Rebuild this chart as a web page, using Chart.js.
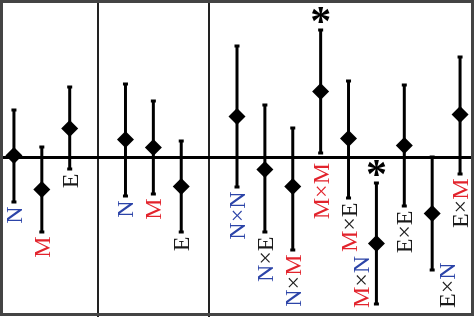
<!DOCTYPE html>
<html>
<head>
<meta charset="utf-8">
<script src="https://cdn.jsdelivr.net/npm/chart.js@4/dist/chart.umd.min.js"></script>
<style>
  html, body { margin: 0; padding: 0; background: #fff; }
  #wrap { width: 474px; height: 317px; }
</style>
</head>
<body>
<div id="wrap"><canvas id="c" width="474" height="317"></canvas></div>
<script>
// Terms: main effects (two panels) and pairwise interactions
const terms = ['N', 'M', 'E', 'N', 'M', 'E',
               'N×N', 'N×E', 'N×M', 'M×M', 'M×E', 'M×N', 'E×E', 'E×N', 'E×M'];
// Slot index of each term along the x axis (gaps hold the panel dividers)
const slot = [0, 1, 2, 4, 5, 6, 8, 9, 10, 11, 12, 13, 14, 15, 16];
const dividers = [3, 7];
// Point estimates and interval bounds
const estimate = [0.02, -0.32, 0.29, 0.18, 0.10, -0.29,
                  0.41, -0.12, -0.29, 0.66, 0.19, -0.86, 0.12, -0.56, 0.43];
const upper    = [0.48, 0.11, 0.71, 0.74, 0.57, 0.17,
                  1.12, 0.53, 0.30, 1.28, 0.77, -0.25, 0.73, 0.01, 1.01];
const lower    = [-0.45, -0.75, -0.12, -0.39, -0.37, -0.75,
                  -0.30, -0.75, -0.93, 0.04, -0.41, -1.47, -0.49, -1.13, -0.17];
const significant = [0, 0, 0, 0, 0, 0, 0, 0, 0, 1, 0, 1, 0, 0, 0];

const LETTER_COLOR = { N: '#2c44a8', M: '#e2232c', E: '#1a1a1a' };
const LABEL_FONT = '24px "Liberation Serif", "Times New Roman", serif';
const STAR_FONT = 'bold 42px "Liberation Serif", "Times New Roman", serif';
// Labels that do not fit below their whisker sit beside it, flush with the bottom
const SIDE_LABEL = { 'M×N': -15, 'E×N': 15 };
const LABEL_FLOOR = 308;

function labelParts(term) {
  const chars = [...term];
  if (chars.length === 1) return [[chars[0], LETTER_COLOR[chars[0]]]];
  const a = chars[0], b = chars[2];
  const cross = a === b ? LETTER_COLOR[a] : '#1a1a1a';
  return [[a, LETTER_COLOR[a]], ['×', cross], [b, LETTER_COLOR[b]]];
}

const panelPlugin = {
  id: 'panels',
  beforeDatasetsDraw(chart) {
    const { ctx, width, height } = chart;
    const { x, y } = chart.scales;
    ctx.save();
    // panel dividers
    ctx.strokeStyle = '#222';
    ctx.lineWidth = 2;
    dividers.forEach(d => {
      const px = Math.round(x.getPixelForValue(d));
      ctx.beginPath(); ctx.moveTo(px, 0); ctx.lineTo(px, height); ctx.stroke();
    });
    // zero reference line
    const y0 = y.getPixelForValue(0);
    ctx.strokeStyle = '#000';
    ctx.lineWidth = 3;
    ctx.beginPath(); ctx.moveTo(0, y0); ctx.lineTo(width, y0); ctx.stroke();
    // interval whiskers with caps
    ctx.fillStyle = '#000';
    slot.forEach((s, i) => {
      const px = x.getPixelForValue(s);
      const t = y.getPixelForValue(upper[i]);
      const b = y.getPixelForValue(lower[i]);
      ctx.beginPath(); ctx.moveTo(px, t); ctx.lineTo(px, b); ctx.stroke();
      ctx.fillRect(px - 2.5, t - 1, 5, 3);
      ctx.fillRect(px - 2.5, b - 2, 5, 3);
    });
    ctx.restore();
  },
  afterDatasetsDraw(chart) {
    const { ctx } = chart;
    const { x, y } = chart.scales;
    const y0 = y.getPixelForValue(0);
    ctx.save();
    // rotated term labels under each interval
    ctx.font = LABEL_FONT;
    ctx.textBaseline = 'alphabetic';
    ctx.textAlign = 'left';
    slot.forEach((s, i) => {
      let px = x.getPixelForValue(s);
      const b = y.getPixelForValue(lower[i]);
      const parts = labelParts(terms[i]);
      const total = parts.reduce((w, p) => w + ctx.measureText(p[0]).width, 0);
      let top = Math.max(b, y0 + 1.5) + 4;
      if (terms[i] in SIDE_LABEL) {
        px += SIDE_LABEL[terms[i]];
        top = LABEL_FLOOR - total;
      }
      ctx.save();
      ctx.translate(px, top);
      ctx.rotate(-Math.PI / 2);
      let rx = -total;
      parts.forEach(([txt, col]) => {
        ctx.fillStyle = col;
        ctx.fillText(txt, rx, 8);
        rx += ctx.measureText(txt).width;
      });
      ctx.restore();
    });
    // significance markers
    ctx.font = STAR_FONT;
    ctx.fillStyle = '#000';
    ctx.textAlign = 'center';
    ctx.textBaseline = 'alphabetic';
    const m = ctx.measureText('*');
    const mid = (m.actualBoundingBoxAscent - m.actualBoundingBoxDescent) / 2;
    slot.forEach((s, i) => {
      if (!significant[i]) return;
      const px = x.getPixelForValue(s);
      const t = y.getPixelForValue(upper[i]);
      ctx.fillText('*', px, t - 15 + mid);
    });
    ctx.restore();
  },
  afterDraw(chart) {
    const { ctx } = chart;
    ctx.save();
    ctx.strokeStyle = '#444';
    ctx.lineWidth = 3;
    ctx.strokeRect(1.5, 1.5, 471, 313);
    ctx.restore();
  }
};

new Chart(document.getElementById('c'), {
  type: 'scatter',
  data: {
    datasets: [{
      data: slot.map((s, i) => ({ x: s, y: estimate[i] })),
      pointStyle: 'rectRot',
      pointRadius: 8.5,
      pointHoverRadius: 8.5,
      backgroundColor: '#000',
      borderColor: '#000',
      borderWidth: 0,
      clip: false
    }]
  },
  options: {
    responsive: false,
    devicePixelRatio: 1,
    animation: false,
    layout: { padding: 0, autoPadding: false },
    plugins: { legend: { display: false }, tooltip: { enabled: false }, title: { display: false } },
    scales: {
      x: { type: 'linear', min: -0.5, max: 16.5, display: false },
      y: { type: 'linear', min: -1.595, max: 1.575, display: false }
    }
  },
  plugins: [panelPlugin]
});
</script>
</body>
</html>
